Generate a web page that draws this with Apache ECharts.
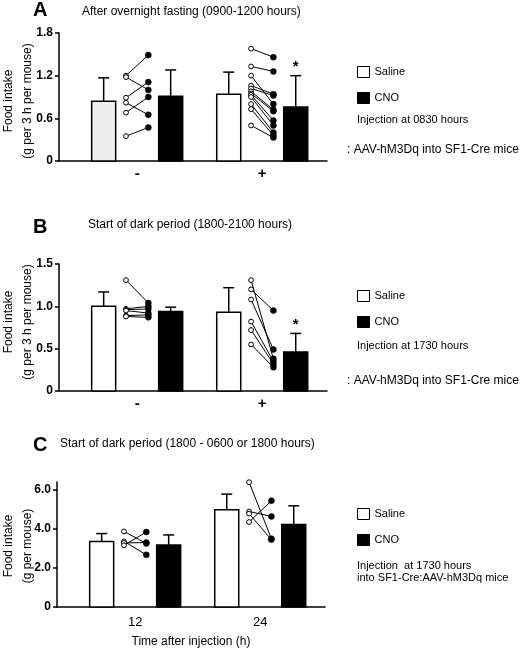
<!DOCTYPE html>
<html><head><meta charset="utf-8">
<script src="https://cdn.jsdelivr.net/npm/echarts@6/dist/echarts.min.js"></script>
<style>html,body{margin:0;padding:0;background:#fff}#c{width:520px;height:651px}</style>
</head><body><div id="c"></div>
<script>
// ---------- data ----------
const groupsAB = ['-', '+'];
const groupsC = ['12', '24'];
const tickLabelsA = [0, 0.6, 1.2, 1.8];
const tickLabelsB = [0, 0.5, 1.0, 1.5];
const tickLabelsC = [0, 2, 4, 6];

// Panel A: after overnight fasting
const aSalineMean = [0.84, 0.94];
const aSalineErr = [0.33, 0.31];
const aCnoMean = [0.91, 0.76];
const aCnoErr = [0.37, 0.44];
const aStars = ['', '*'];
const aPairSaline = [
  [1.20, 1.18, 0.89, 0.82, 0.68, 0.35],
  [1.58, 1.33, 1.20, 1.06, 1.02, 0.98, 0.95, 0.93, 0.90, 0.80, 0.73, 0.50]
];
const aPairCno = [
  [1.49, 1.00, 1.11, 0.65, 0.90, 0.47],
  [1.46, 1.26, 0.80, 0.94, 0.92, 0.72, 0.70, 0.57, 0.50, 0.40, 0.36, 0.33]
];

// Panel B: start of dark period (1800-2100)
const bSalineMean = [1.00, 0.93];
const bSalineErr = [0.17, 0.29];
const bCnoMean = [0.94, 0.46];
const bCnoErr = [0.05, 0.22];
const bStars = ['', '*'];
const bPairSaline = [
  [1.31, 0.97, 0.96, 0.95, 0.89, 0.88],
  [1.31, 1.20, 1.08, 0.82, 0.72, 0.55]
];
const bPairCno = [
  [1.04, 1.00, 0.97, 0.92, 0.90, 0.87],
  [0.38, 0.95, 0.49, 0.35, 0.32, 0.28]
];

// Panel C: 12 h / 24 h
const cSalineMean = [3.36, 4.98];
const cSalineErr = [0.40, 0.80];
const cCnoMean = [3.18, 4.22];
const cCnoErr = [0.51, 0.96];
const cStars = ['', ''];
const cPairSaline = [
  [3.87, 3.36, 3.28, 3.16],
  [6.39, 4.89, 4.78, 4.35]
];
const cPairCno = [
  [3.25, 2.67, 3.30, 3.84],
  [3.50, 4.64, 3.45, 5.44]
];

// ---------- layout ----------
const FONT = '"Liberation Sans", Arial, Helvetica, sans-serif';
const groupCenters = [3.5, 9.1];
const OFF_SAL = -1.5, OFF_OPEN = -0.5, OFF_FILL = 0.5, OFF_CNO = 1.5;
const BAR_W = 24, CAP_W = 11;

function barSeries(name, grid, means, errs, stars, offset, fills) {
  return {
    type: 'custom', name: name, xAxisIndex: grid, yAxisIndex: grid,
    itemStyle: { color: fills[0] === '#000' ? '#000' : '#fff' },
    data: means.map((m, i) => [groupCenters[i] + offset, m, errs[i]]),
    renderItem: function (params, api) {
      const x = api.value(0), m = api.value(1), e = api.value(2);
      const base = api.coord([x, 0]), top = api.coord([x, m]), cap = api.coord([x, m + e]);
      const children = [
        { type: 'line', shape: { x1: top[0], y1: top[1], x2: cap[0], y2: cap[1] }, style: { stroke: '#000', lineWidth: 1.5 } },
        { type: 'line', shape: { x1: cap[0] - CAP_W / 2, y1: cap[1], x2: cap[0] + CAP_W / 2, y2: cap[1] }, style: { stroke: '#000', lineWidth: 1.5 } },
        { type: 'rect', shape: { x: base[0] - BAR_W / 2, y: top[1], width: BAR_W, height: base[1] - top[1] },
          style: { fill: fills[params.dataIndex], stroke: '#000', lineWidth: 1.5 } }
      ];
      const s = stars[params.dataIndex];
      if (s) {
        children.push({ type: 'text', style: { text: s, x: cap[0], y: cap[1] - 1, align: 'center', verticalAlign: 'bottom',
          font: 'bold 15px ' + FONT, fill: '#000' } });
      }
      return { type: 'group', children: children };
    }
  };
}

function pairSeries(grid, sal, cno) {
  const data = [];
  sal.forEach((arr, g) => arr.forEach((v, k) => {
    data.push([groupCenters[g] + OFF_OPEN, v, groupCenters[g] + OFF_FILL, cno[g][k]]);
  }));
  return {
    type: 'custom', xAxisIndex: grid, yAxisIndex: grid, z: 5, data: data,
    renderItem: function (params, api) {
      const p1 = api.coord([api.value(0), api.value(1)]);
      const p2 = api.coord([api.value(2), api.value(3)]);
      return { type: 'group', children: [
        { type: 'line', shape: { x1: p1[0], y1: p1[1], x2: p2[0], y2: p2[1] }, style: { stroke: '#000', lineWidth: 1 } },
        { type: 'circle', shape: { cx: p1[0], cy: p1[1], r: 2.4 }, style: { fill: '#fff', stroke: '#000', lineWidth: 1 } },
        { type: 'circle', shape: { cx: p2[0], cy: p2[1], r: 3 }, style: { fill: '#000', stroke: '#000', lineWidth: 0.5 } }
      ] };
    }
  };
}

function xAxis(grid, labels, labelStyle, extra) {
  return Object.assign({
    type: 'value', gridIndex: grid, min: 0, max: 12,
    axisLine: { lineStyle: { color: '#000', width: 1.5 } },
    axisTick: { show: false }, splitLine: { show: false },
    axisLabel: Object.assign({ customValues: groupCenters, color: '#000', fontFamily: FONT,
      formatter: function (v) { let best = 0; groupCenters.forEach((c, i) => { if (Math.abs(c - v) < Math.abs(groupCenters[best] - v)) best = i; }); return labels[best]; } },
      labelStyle)
  }, extra || {});
}

function yAxis(grid, max, ticks) {
  return {
    type: 'value', gridIndex: grid, min: 0, max: max,
    axisLine: { show: true, lineStyle: { color: '#000', width: 1.5 } },
    axisTick: { show: true, length: 4, customValues: ticks, lineStyle: { color: '#000', width: 1.5 } },
    splitLine: { show: false },
    axisLabel: { customValues: ticks, color: '#000', fontFamily: FONT, fontSize: 12, fontWeight: 'bold', margin: 6,
      formatter: v => v === 0 ? '0' : v.toFixed(1) }
  };
}

function legend(top) {
  return {
    orient: 'vertical', left: 357, top: top, itemWidth: 12, itemHeight: 11, itemGap: 14,
    icon: 'rect', selectedMode: false, padding: 0,
    textStyle: { fontFamily: FONT, fontSize: 11, color: '#000', lineHeight: 11 },
    data: [
      { name: 'Saline', itemStyle: { color: '#fff', borderColor: '#000', borderWidth: 1 } },
      { name: 'CNO', itemStyle: { color: '#000', borderColor: '#000', borderWidth: 1 } }
    ]
  };
}

function txt(text, x, y, size, opts) {
  return Object.assign({ type: 'text', x: x, y: y, style: { text: text, font: size + 'px ' + FONT, fill: '#000',
    align: 'left', verticalAlign: 'middle' } }, opts || {});
}
function rtxt(text, x, y) {
  return { type: 'text', x: x, y: y, rotation: Math.PI / 2,
    style: { text: text, font: '12px ' + FONT, fill: '#000', align: 'center', verticalAlign: 'middle' } };
}

const signStyle = { fontSize: 15, fontWeight: 'bold', margin: 5 };
const hourStyle = { fontSize: 13, margin: 9 };

const option = {
  animation: false,
  backgroundColor: '#fff',
  grid: [
    { left: 59, top: 33, width: 268, height: 128 },
    { left: 59, top: 264, width: 268, height: 127 },
    { left: 57, top: 482, width: 268, height: 125 }
  ],
  xAxis: [
    xAxis(0, groupsAB, signStyle),
    xAxis(1, groupsAB, signStyle),
    xAxis(2, groupsC, hourStyle, { name: 'Time after injection (h)', nameLocation: 'middle', nameGap: 29,
      nameTextStyle: { fontFamily: FONT, fontSize: 12, color: '#000' } })
  ],
  yAxis: [
    yAxis(0, 1.8, tickLabelsA),
    yAxis(1, 1.5, tickLabelsB),
    yAxis(2, 6.4, tickLabelsC)
  ],
  legend: [legend(66), legend(290), legend(508)],
  series: [
    barSeries('Saline', 0, aSalineMean, aSalineErr, ['', ''], OFF_SAL, ['#eeeeee', '#fff']),
    barSeries('CNO', 0, aCnoMean, aCnoErr, aStars, OFF_CNO, ['#000', '#000']),
    pairSeries(0, aPairSaline, aPairCno),
    barSeries('Saline', 1, bSalineMean, bSalineErr, ['', ''], OFF_SAL, ['#fff', '#fff']),
    barSeries('CNO', 1, bCnoMean, bCnoErr, bStars, OFF_CNO, ['#000', '#000']),
    pairSeries(1, bPairSaline, bPairCno),
    barSeries('Saline', 2, cSalineMean, cSalineErr, ['', ''], OFF_SAL, ['#fff', '#fff']),
    barSeries('CNO', 2, cCnoMean, cCnoErr, cStars, OFF_CNO, ['#000', '#000']),
    pairSeries(2, cPairSaline, cPairCno)
  ],
  graphic: [
    txt('A', 33, 10, 19, { style: { text: 'A', font: 'bold 20px ' + FONT, fill: '#000', verticalAlign: 'middle' } }),
    txt('After overnight fasting (0900-1200 hours)', 82, 12, 12),
    txt('B', 33, 227, 19, { style: { text: 'B', font: 'bold 20px ' + FONT, fill: '#000', verticalAlign: 'middle' } }),
    txt('Start of dark period (1800-2100 hours)', 88, 225, 12),
    txt('C', 33, 445, 19, { style: { text: 'C', font: 'bold 20px ' + FONT, fill: '#000', verticalAlign: 'middle' } }),
    txt('Start of dark period (1800 - 0600 or 1800 hours)', 60, 444, 12),
    rtxt('Food intake', 9, 101), rtxt('(g per 3 h per mouse)', 28, 101),
    rtxt('Food intake', 9, 322), rtxt('(g per 3 h per mouse)', 28, 322),
    rtxt('Food intake', 9, 546), rtxt('(g per mouse)', 28, 546),
    txt('Injection at 0830 hours', 357, 120, 11),
    txt(': AAV-hM3Dq into SF1-Cre mice', 347, 150, 12),
    txt('Injection at 1730 hours', 357, 346, 11),
    txt(': AAV-hM3Dq into SF1-Cre mice', 347, 381, 12),
    txt('Injection  at 1730 hours', 357, 566, 11),
    txt('into SF1-Cre:AAV-hM3Dq mice', 357, 578, 11)
  ]
};

const chart = echarts.init(document.getElementById('c'), null, { renderer: 'canvas' });
chart.setOption(option);
</script>
</body></html>
